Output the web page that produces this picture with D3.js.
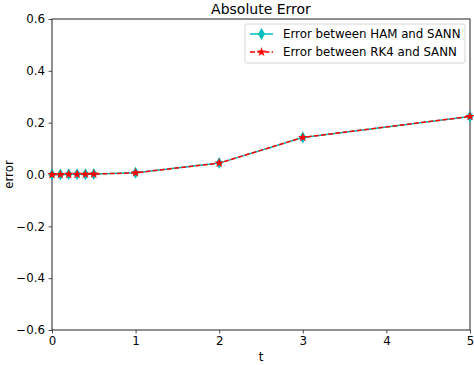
<!DOCTYPE html>
<html><head><meta charset="utf-8">
<script src="https://cdn.jsdelivr.net/npm/d3@7"></script>
<style>body{margin:0;background:#fff}text{font-family:"DejaVu Sans",sans-serif}</style>
</head><body><svg id="c" width="474" height="365"></svg>
<script>
const tValues = [0, 0.1, 0.2, 0.3, 0.4, 0.5, 1, 2, 3, 5];
const hamError = [0, 0.0003, 0.0006, 0.0009, 0.0012, 0.0015, 0.0065, 0.044, 0.143, 0.224];
const rk4Error = [0, 0.0003, 0.0006, 0.0009, 0.0012, 0.0015, 0.0065, 0.044, 0.143, 0.224];
const xTicks = [0, 1, 2, 3, 4, 5];
const yTicks = [-0.6, -0.4, -0.2, 0.0, 0.2, 0.4, 0.6];
const seriesNames = ["Error between HAM and SANN", "Error between RK4 and SANN"];

const svg = d3.select("#c");
const L = 52, R = 470, T = 19, B = 330;
const x = d3.scaleLinear().domain([0, 5]).range([L, R]);
const y = d3.scaleLinear().domain([-0.6, 0.6]).range([B, T]);

const fmtY = d => (d < 0 ? "\u2212" : "") + Math.abs(d).toFixed(1);
const FS = 11.8;

const xa = svg.append("g").attr("transform", `translate(0,${B})`)
  .call(d3.axisBottom(x).tickValues(xTicks).tickFormat(d3.format("d")).tickSize(3.5).tickPadding(3.5));
const ya = svg.append("g").attr("transform", `translate(${L},0)`)
  .call(d3.axisLeft(y).tickValues(yTicks).tickFormat(fmtY).tickSize(3.5).tickPadding(3.5));
[xa, ya].forEach(a => {
  a.select(".domain").remove();
  a.selectAll("line").attr("stroke", "#222").attr("stroke-width", 0.8);
  a.selectAll("text").attr("font-size", FS).attr("fill", "#000").style("font-family", "DejaVu Sans");
});

svg.append("rect").attr("x", L).attr("y", T).attr("width", R - L).attr("height", B - T)
  .attr("fill", "none").attr("stroke", "#222").attr("stroke-width", 1);

svg.append("text").attr("x", (L + R) / 2).attr("y", T - 5).attr("text-anchor", "middle")
  .attr("font-size", 14).text("Absolute Error");
svg.append("text").attr("x", (L + R) / 2).attr("y", 361).attr("text-anchor", "middle")
  .attr("font-size", FS).text("t");
svg.append("text").attr("transform", `translate(13,${(T + B) / 2}) rotate(-90)`).attr("text-anchor", "middle")
  .attr("font-size", FS).text("error");

const line = d3.line().x(d => x(d[0])).y(d => y(d[1]));
const hamPts = tValues.map((t, i) => [t, hamError[i]]);
const rkPts = tValues.map((t, i) => [t, rk4Error[i]]);

const cyan = "#00bfbf", red = "#ff0000";
const diamond = "M0,-6 L3.5,0 L0,6 L-3.5,0 Z";
const star = d3.symbol().type(d3.symbolStar).size(28)();

svg.append("path").attr("d", line(hamPts)).attr("fill", "none").attr("stroke", cyan).attr("stroke-width", 1.5);
svg.append("g").selectAll("path").data(hamPts).join("path")
  .attr("transform", d => `translate(${x(d[0])},${y(d[1])})`).attr("d", diamond).attr("fill", cyan);
svg.append("path").attr("d", line(rkPts)).attr("fill", "none").attr("stroke", red).attr("stroke-width", 1.5)
  .attr("stroke-dasharray", "5,2.2");
svg.append("g").selectAll("path").data(rkPts).join("path")
  .attr("transform", d => `translate(${x(d[0])},${y(d[1])})`).attr("d", star).attr("fill", red);

// legend
const lg = svg.append("g");
lg.append("rect").attr("x", 245).attr("y", 24).attr("width", 220).attr("height", 39).attr("rx", 2)
  .attr("fill", "#fff").attr("fill-opacity", 0.8).attr("stroke", "#ccc").attr("stroke-width", 0.8);
const ly = [34, 52];
lg.append("line").attr("x1", 250).attr("x2", 273).attr("y1", ly[0]).attr("y2", ly[0]).attr("stroke", cyan).attr("stroke-width", 1.5);
lg.append("path").attr("transform", `translate(261.5,${ly[0]})`).attr("d", diamond).attr("fill", cyan);
lg.append("line").attr("x1", 250).attr("x2", 273).attr("y1", ly[1]).attr("y2", ly[1]).attr("stroke", red).attr("stroke-width", 1.5).attr("stroke-dasharray", "5,2.2");
lg.append("path").attr("transform", `translate(261.5,${ly[1]})`).attr("d", star).attr("fill", red);
seriesNames.forEach((n, i) => {
  lg.append("text").attr("x", 283).attr("y", ly[i]).attr("dy", "0.35em").attr("font-size", FS).text(n);
});
</script></body></html>
